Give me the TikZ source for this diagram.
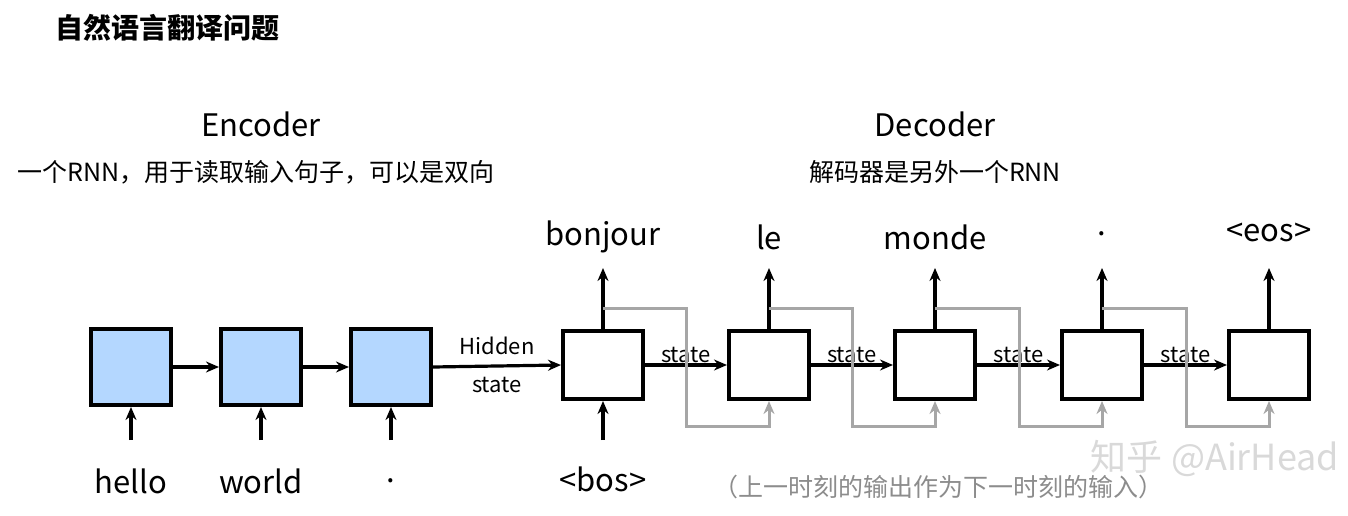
\documentclass[tikz,border=0pt]{standalone}
\usepackage{fontspec}
\setmainfont{Noto Sans CJK SC}
\usetikzlibrary{arrows.meta}
\definecolor{encblue}{RGB}{180,215,255}
\begin{document}
\begin{tikzpicture}[x=1pt,y=-1pt,
  cell/.style={draw,line width=4pt,minimum width=80pt,minimum height=68pt,inner sep=0pt},
  enc/.style={cell,fill=encblue,minimum height=76pt},
  arr/.style={line width=3.2pt,-{Stealth[length=13pt,width=11pt]}},
  gar/.style={line width=3pt,draw=black!35,-{Stealth[length=13pt,width=11pt]}},
  word/.style={font=\fontsize{31}{34}\selectfont},
  lab/.style={font=\fontsize{22}{24}\selectfont}]
\useasboundingbox (0,0) rectangle (1348,516);
\node[anchor=west,font=\bfseries\fontsize{28}{32}\selectfont] (title) at (52,28) {自然语言翻译问题};
\node[word,font=\fontsize{31}{34}\selectfont] (encl) at (261,124) {Encoder};
\node[word,font=\fontsize{31}{34}\selectfont] (decl) at (935,124) {Decoder};
\node[font=\fontsize{25}{28}\selectfont] (encs) at (256,172) {一个RNN，用于读取输入句子，可以是双向};
\node[font=\fontsize{25}{28}\selectfont] (decs) at (935,172) {解码器是另外一个RNN};
% encoder
\node[enc] (e1) at (131,367) {};
\node[enc] (e2) at (261,367) {};
\node[enc] (e3) at (391,367) {};
% decoder
\foreach \i/\x in {1/603,2/769,3/935,4/1102,5/1269}
  \node[cell] (d\i) at (\x,365) {};
\draw[arr] (e1) -- (e2);
\draw[arr] (e2) -- (e3);
\draw[arr] (e3.east) -- (d1.west) node[midway,above,lab,yshift=6pt] (hid) {Hidden} node[midway,below,lab,yshift=-6pt] (hst) {state};
\foreach \a/\b in {1/2,2/3,3/4,4/5}
  \draw[arr] (d\a) -- (d\b) node[midway,above,lab,inner sep=1pt] (s\a) {state};
% inputs
\foreach \n/\x/\t in {h/131/hello,w/261/world,p/391/.}{
  \node[word] (in\n) at (\x,481) {\t};
  \coordinate (ci\n) at (\x,440);
}
\draw[arr] (cih) -- (e1.south);
\draw[arr] (ciw) -- (e2.south);
\draw[arr] (cip) -- (e3.south);
\node[word] (bos) at (603,479) {<bos>};
\coordinate (cb) at (603,440);
\draw[arr] (cb) -- (d1.south);
% outputs
\foreach \i/\x/\t/\y in {1/603/bonjour/237,2/769/le/237,3/935/monde/237,4/1102/./234,5/1269/<eos>/232}{
  \node[word] (o\i) at (\x,\y) {\t};
  \coordinate (co\i) at (\x,268);
  \draw[arr] (d\i.north) -- (co\i);
}
% feedback
\foreach \a/\b/\x/\xm in {1/2/603/686,2/3/769/852,3/4/935/1019,4/5/1102/1186}{
  \coordinate (f\a) at (\x,308);
  \draw[gar] (f\a) -| (\xm,426) -| (d\b.south);
}
\node[font=\fontsize{25}{28}\selectfont,text=black!45] (cap) at (938,487) {（上一时刻的输出作为下一时刻的输入）};
\node[font=\fontsize{36}{40}\selectfont,text=black!15] (wm) at (1215,458) {知乎 @AirHead};
\end{tikzpicture}
\end{document}
